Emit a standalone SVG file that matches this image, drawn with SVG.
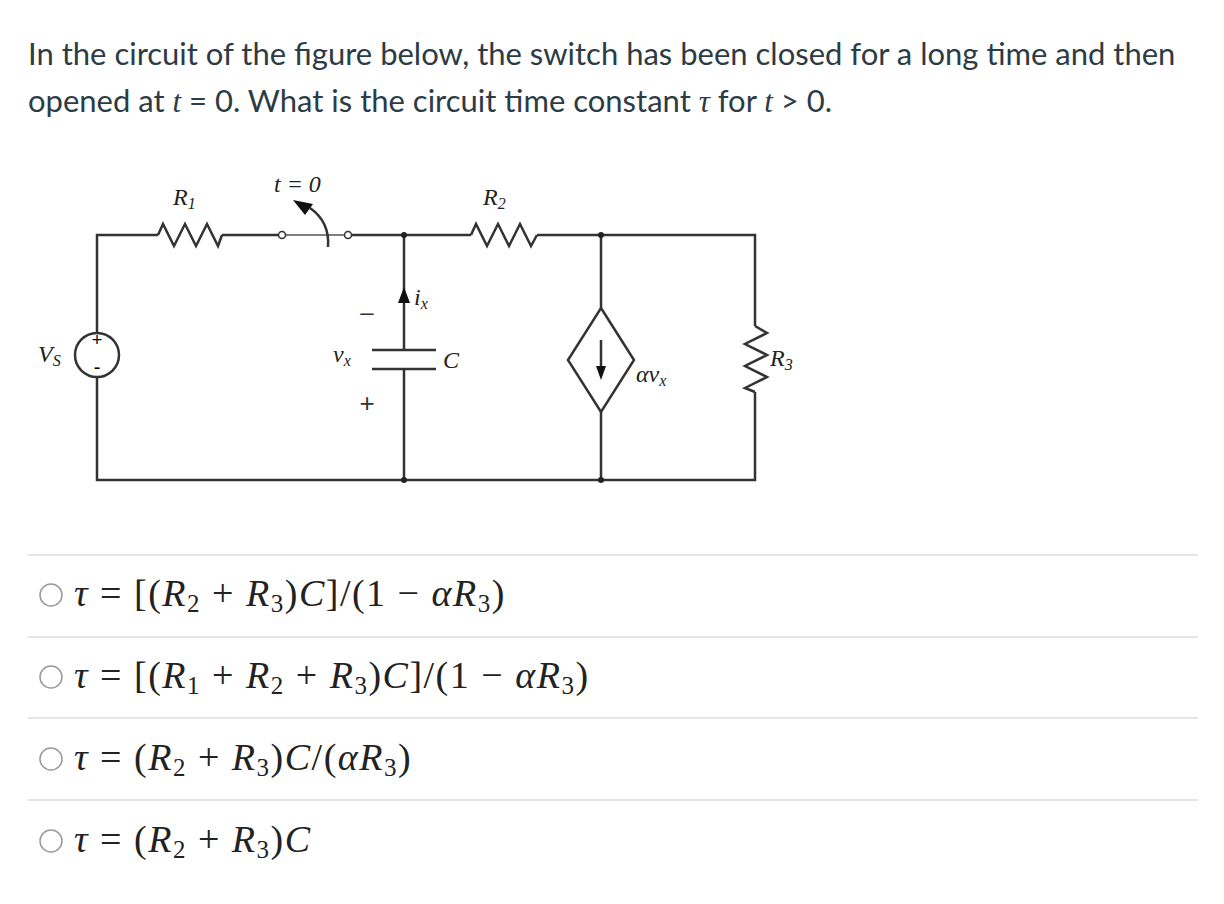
<svg xmlns="http://www.w3.org/2000/svg" width="1224" height="904" viewBox="0 0 1224 904">
<style>
.w{stroke:#333;stroke-width:2.5;fill:none}
.t{font-family:"Lato","Liberation Sans",sans-serif;font-size:31px;fill:#2d3b45}
.m{font-family:"Liberation Serif",serif;font-style:italic;font-size:24px;fill:#222}
.e{font-family:"Liberation Serif",serif;font-size:38px;fill:#222;letter-spacing:1.5px}
.sep{stroke:#ddd;stroke-width:1.5}
.rad{fill:#fff;stroke:#999;stroke-width:1.5}
</style>
<rect width="1224" height="904" fill="#fff"/>
<text class="t" x="28" y="65">In the circuit of the figure below, the switch has been closed for a long time and then</text>
<text class="t" x="28" y="112">opened at <tspan font-family="Liberation Serif" font-style="italic">t</tspan> = 0. What is the circuit time constant <tspan font-family="Liberation Serif" font-style="italic">τ</tspan> for <tspan font-family="Liberation Serif" font-style="italic">t</tspan> &gt; 0.</text>
<g id="connectors">
<path class="w" d="M97,333 V235 H158 M222,235 H280 M350,235 H471 M537,235 H755 V326 M755,392 V480 H97 V377"/>
<path class="w" d="M404,235 V350 M404,369 V480 M601,235 V308 M601,412 V480"/>
<path d="M285,235 H345" stroke="#555" stroke-width="1.5"/>
</g>
<g id="Vs"><circle class="w" cx="97" cy="355" r="22"/><text x="97" y="346" font-size="18" text-anchor="middle" font-family="Liberation Sans">+</text><text x="97" y="374" font-size="20" text-anchor="middle" font-family="Liberation Sans">-</text><text class="m" x="38" y="362">V<tspan font-size="16" dy="4">S</tspan></text></g>
<g id="R1"><path class="w" d="M158,235 L163,224 L174,246 L185,224 L196,246 L207,224 L218,246 L222,235"/><text class="m" x="173" y="205">R<tspan font-size="16" dy="4">1</tspan></text></g>
<g id="switch"><circle cx="282" cy="235" r="3.5" fill="#fff" stroke="#333" stroke-width="1.5"/><circle cx="348" cy="235" r="3.5" fill="#fff" stroke="#333" stroke-width="1.5"/><path class="w" d="M328,247 Q330,222 310,208"/><path d="M293,200 L313,204 L305,215 Z" fill="#111"/><text class="m" x="274" y="192">t = 0</text></g>
<circle cx="404" cy="235" r="3" fill="#222"/><circle cx="404" cy="480" r="3" fill="#222"/><circle cx="601" cy="235" r="3" fill="#222"/><circle cx="601" cy="480" r="3" fill="#222"/>
<g id="C"><path class="w" d="M372,350 H436 M372,369 H436"/><path d="M404,287 L398,303 H410 Z" fill="#111"/><text class="m" x="414" y="305">i<tspan font-size="16" dy="4">x</tspan></text><text class="m" x="443" y="368">C</text><text class="m" x="333" y="362">v<tspan font-size="16" dy="4">x</tspan></text><text x="367" y="320" font-size="24" font-family="Liberation Sans" fill="#333" text-anchor="middle">–</text><text x="367" y="412" font-size="26" font-family="Liberation Sans" fill="#333" text-anchor="middle">+</text></g>
<g id="R2"><path class="w" d="M471,235 L476,224 L487,246 L498,224 L509,246 L520,224 L531,246 L537,235"/><text class="m" x="483" y="205">R<tspan font-size="16" dy="4">2</tspan></text></g>
<g id="dep"><path class="w" d="M601,308 L634,360 L601,412 L568,360 Z"/><path class="w" d="M601,340 V372" stroke-width="2"/><path d="M601,380 L596,366 H606 Z" fill="#111"/><text class="m" x="636" y="382">αv<tspan font-size="16" dy="4">x</tspan></text></g>
<g id="R3"><path class="w" d="M755,326 L767,333 L745,344 L767,355 L745,366 L767,377 L745,388 L755,392"/><text class="m" x="770" y="366">R<tspan font-size="16" dy="4">3</tspan></text></g>
<g id="options">
<line class="sep" x1="28" y1="555" x2="1198" y2="555"/><line class="sep" x1="28" y1="637" x2="1198" y2="637"/><line class="sep" x1="28" y1="718" x2="1198" y2="718"/><line class="sep" x1="28" y1="800" x2="1198" y2="800"/>
<circle class="rad" cx="51" cy="595" r="11"/><circle class="rad" cx="51" cy="677" r="11"/><circle class="rad" cx="51" cy="759" r="11"/><circle class="rad" cx="51" cy="841" r="11"/>
<text class="e" x="74" y="606"><tspan font-style="italic">τ</tspan> = [(<tspan font-style="italic">R</tspan><tspan font-size="25" dy="6">2</tspan><tspan dy="-6"> + </tspan><tspan font-style="italic">R</tspan><tspan font-size="25" dy="6">3</tspan><tspan dy="-6">)</tspan><tspan font-style="italic">C</tspan>]/(1 − <tspan font-style="italic">αR</tspan><tspan font-size="25" dy="6">3</tspan><tspan dy="-6">)</tspan></text>
<text class="e" x="74" y="688"><tspan font-style="italic">τ</tspan> = [(<tspan font-style="italic">R</tspan><tspan font-size="25" dy="6">1</tspan><tspan dy="-6"> + </tspan><tspan font-style="italic">R</tspan><tspan font-size="25" dy="6">2</tspan><tspan dy="-6"> + </tspan><tspan font-style="italic">R</tspan><tspan font-size="25" dy="6">3</tspan><tspan dy="-6">)</tspan><tspan font-style="italic">C</tspan>]/(1 − <tspan font-style="italic">αR</tspan><tspan font-size="25" dy="6">3</tspan><tspan dy="-6">)</tspan></text>
<text class="e" x="74" y="770"><tspan font-style="italic">τ</tspan> = (<tspan font-style="italic">R</tspan><tspan font-size="25" dy="6">2</tspan><tspan dy="-6"> + </tspan><tspan font-style="italic">R</tspan><tspan font-size="25" dy="6">3</tspan><tspan dy="-6">)</tspan><tspan font-style="italic">C</tspan>/(<tspan font-style="italic">αR</tspan><tspan font-size="25" dy="6">3</tspan><tspan dy="-6">)</tspan></text>
<text class="e" x="74" y="852"><tspan font-style="italic">τ</tspan> = (<tspan font-style="italic">R</tspan><tspan font-size="25" dy="6">2</tspan><tspan dy="-6"> + </tspan><tspan font-style="italic">R</tspan><tspan font-size="25" dy="6">3</tspan><tspan dy="-6">)</tspan><tspan font-style="italic">C</tspan></text>
</g>
</svg>
